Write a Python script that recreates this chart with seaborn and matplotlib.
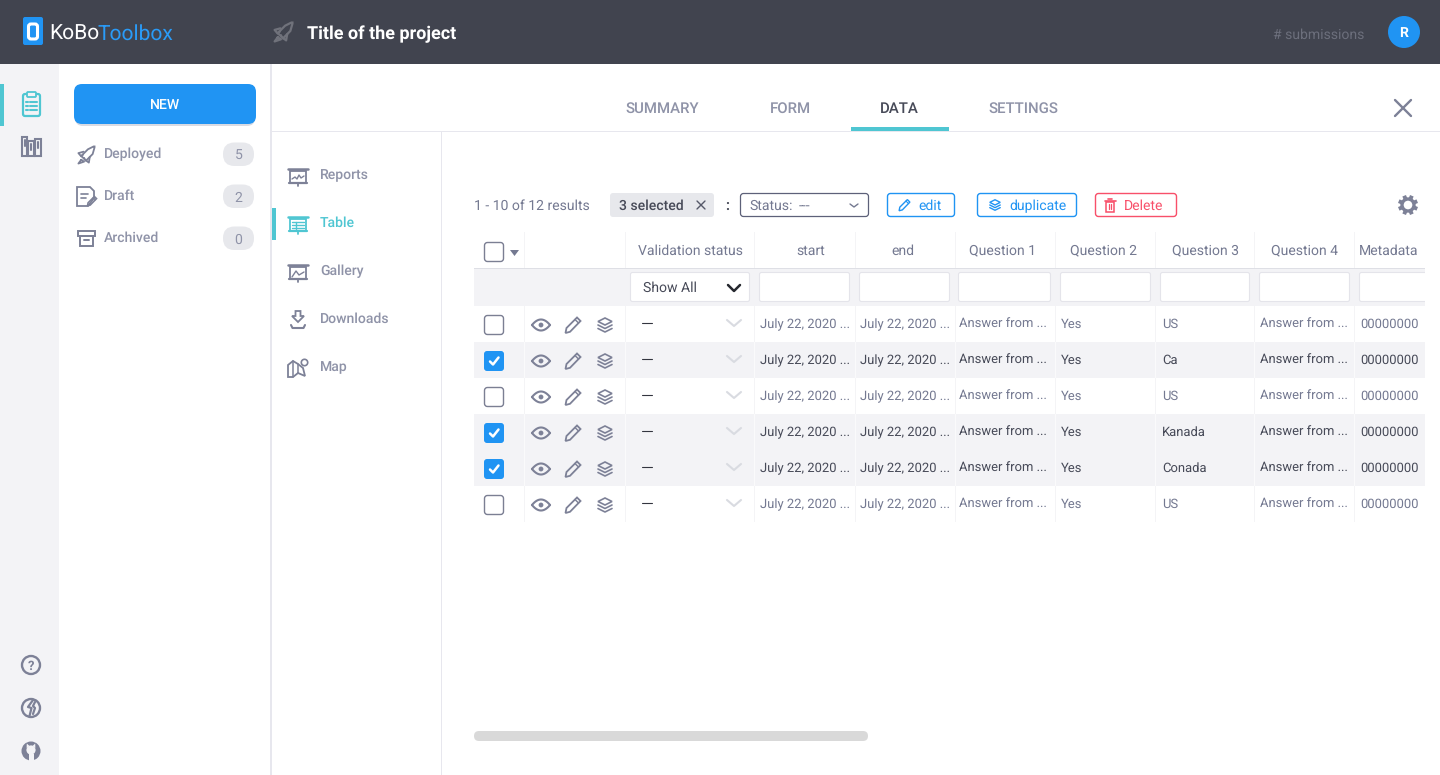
import matplotlib
matplotlib.use('Agg')
import numpy as np
import pandas as pd
import matplotlib.pyplot as plt
import seaborn as sns
from matplotlib.colors import ListedColormap
from matplotlib.patches import Circle, FancyBboxPatch, Polygon, Rectangle

# Screen contents
project_title = 'Title of the project'
tabs = ['SUMMARY', 'FORM', 'DATA', 'SETTINGS']
tab_x = [662, 790, 899.5, 1023.5]
asset_groups = ['Deployed', 'Draft', 'Archived']
asset_counts = [5, 2, 0]
data_views = ['Reports', 'Table', 'Gallery', 'Downloads', 'Map']
columns = ['Validation status', 'start', 'end', 'Question 1', 'Question 2',
           'Question 3', 'Question 4', 'Metadata']
column_x = [690, 811, 903, 1003, 1104, 1206, 1305, 1389]
column_edges = [524, 625, 754, 855, 955, 1055, 1155, 1254, 1354]
filter_boxes = [(759, 850), (859, 950), (958, 1051), (1060, 1151),
                (1160, 1250), (1259, 1350), (1359, 1440)]
selected = [0, 1, 0, 1, 1, 0]
start_vals = ['July 22, 2020 ...'] * 6
end_vals = ['July 22, 2020 ...'] * 6
q1_vals = ['Answer from ...'] * 6
q2_vals = ['Yes'] * 6
q3_vals = ['US', 'Ca', 'US', 'Kanada', 'Conada', 'US']
q4_vals = ['Answer from ...'] * 6
meta_vals = ['00000000'] * 6

BLUE = '#2094f3'
TEAL = '#4fc6d2'
DARK = '#474a58'
SLATE = '#747991'
SIDE = '#8f93a8'
ICON = '#7d8197'
RED = '#f8506a'
PANEL = '#f3f3f6'
LINE = '#e7e7ee'

sns.set_theme(style='white')
plt.rcParams['font.family'] = ['Roboto', 'DejaVu Sans']
plt.rcParams['text.hinting'] = 'no_hinting'
plt.rcParams['text.hinting_factor'] = 1

fig = plt.figure(figsize=(14.4, 7.75), dpi=100, facecolor='white')

# Row stripes come from the selection flags
row_frame = pd.DataFrame({'selected': selected})
ax_rows = fig.add_axes([474 / 1440, 1 - 522 / 775, 951 / 1440, 216 / 775], zorder=1)
sns.heatmap(row_frame, ax=ax_rows, cmap=ListedColormap(['white', PANEL]), cbar=False,
            vmin=0, vmax=1, xticklabels=False, yticklabels=False)

# Transparent pixel canvas on top for the rest of the page
ax = fig.add_axes([0, 0, 1, 1], zorder=2)
ax.set_xlim(0, 1440)
ax.set_ylim(775, 0)
ax.axis('off')
ax.patch.set_alpha(0)


def px(n):
    return n * 0.72


def rect(x0, y0, x1, y1, color, z=1):
    ax.add_patch(Rectangle((x0, y0), x1 - x0, y1 - y0, fc=color, ec='none', zorder=z))


def rbox(x0, y0, x1, y1, r=3, fc='white', ec='none', lw=1.0, z=2):
    ax.add_patch(FancyBboxPatch((x0, y0), x1 - x0, y1 - y0,
                                boxstyle=f'round,pad=0,rounding_size={r}',
                                fc=fc, ec=ec, lw=lw, zorder=z))


def text(x, y, s, size=14, color=SLATE, ha='left', weight='normal', z=5):
    return ax.text(x, y, s, fontsize=px(size), color=color, ha=ha, va='center_baseline',
                   weight=weight, zorder=z)


def line(xs, ys, color=ICON, lw=1.3, z=4):
    ax.plot(xs, ys, color=color, lw=lw, zorder=z, solid_capstyle='round',
            solid_joinstyle='round')


def rocket(cx, cy, s, color, lw=1.3):
    # tilted rocket, body outline plus fins
    body = [(8, -9), (9, -9), (9, -8), (7, -1), (0, 6), (-5, 1), (2, -6)]
    ax.add_patch(Polygon([(cx + a * s, cy + b * s) for a, b in body], fc='none', ec=color,
                         lw=lw, zorder=4))
    line([cx - 2.5 * s, cx - 8 * s, cx - 5 * s, cx - 3 * s],
         [cy - 3.5 * s, cy - 2 * s, cy + 1.5 * s, cy - 0.5 * s], color, lw)
    line([cx + 4 * s, cx + 3 * s, cx - 1 * s, cx - 2 * s],
         [cy + 2 * s, cy + 8 * s, cy + 5 * s, cy + 3 * s], color, lw)
    line([cx - 5 * s, cx - 8 * s, cx - 2 * s, cx - 5 * s],
         [cy + 5 * s, cy + 9 * s, cy + 7 * s, cy + 5 * s], color, lw)


def board(cx, cy, color, rows=False, lw=1.3):
    # presentation board icon used in the data side menu
    ax.add_patch(Rectangle((cx - 8, cy - 6), 16, 12, fc='none', ec=color, lw=lw, zorder=4))
    line([cx - 10, cx + 10], [cy - 8, cy - 8], color, lw + 0.5)
    line([cx, cx], [cy + 6, cy + 9], color, lw)
    line([cx - 9, cx + 9], [cy + 6, cy + 6], color, lw + 0.3)
    if rows:
        for dy in (-3, 0, 3):
            line([cx - 6, cx + 6], [cy + dy, cy + dy], color, 1.0)
        line([cx - 2, cx - 2], [cy - 3, cy + 4], color, 1.0)


def eye(cx, cy):
    t = np.linspace(-1, 1, 30)
    line(cx + 9 * t, cy - 5.5 * (1 - t ** 2), ICON, 1.5)
    line(cx + 9 * t, cy + 5.5 * (1 - t ** 2), ICON, 1.5)
    ax.add_patch(Circle((cx, cy), 2.4, fc=ICON, ec='none', zorder=4))


def pencil(cx, cy, color=ICON, s=1.0, lw=1.3):
    # slim diagonal pencil
    pts = [(-7.5, 8), (-6.5, 3), (4, -7.5), (7.5, -4), (-3, 6.8)]
    ax.add_patch(Polygon([(cx + a * s, cy + b * s) for a, b in pts], fc='none', ec=color,
                         lw=lw, zorder=4))
    line([cx + 2 * s, cx + 5.5 * s], [cy - 5.5 * s, cy - 2 * s], color, lw * 0.8)


def layers(cx, cy, color=ICON, s=1.0, lw=1.2):
    ax.add_patch(Polygon([(cx - 7 * s, cy - 3.5 * s), (cx, cy - 7 * s), (cx + 7 * s, cy - 3.5 * s),
                          (cx, cy)], fc='none', ec=color, lw=lw, zorder=4))
    for dy in (0, 3.5):
        line([cx - 7 * s, cx, cx + 7 * s],
             [cy + dy * s, cy + (dy + 3.5) * s, cy + dy * s], color, lw)


def checkbox(cx, cy, checked):
    if checked:
        rbox(cx - 10, cy - 10, cx + 10, cy + 10, 3, fc=BLUE, z=3)
        line([cx - 4, cx - 1, cx + 4.5], [cy + 0.5, cy + 3.5, cy - 3.5], 'white', 1.8)
    else:
        rbox(cx - 9.5, cy - 9.5, cx + 9.5, cy + 9.5, 3, fc='white', ec='#7b7f93', lw=1.0, z=3)


# Header bar
rect(0, 0, 1440, 64, '#41444f')
rbox(23, 17, 43, 45, 2, fc=BLUE)
rbox(28.5, 24, 37.5, 39, 2.5, fc='none', ec='white', lw=2.2, z=3)
text(49, 32, 'KoBo', 21.5, 'white')
text(97, 32, 'Toolbox', 21.5, '#2a9bf7')
rocket(283, 32, 1.05, '#70727b', 1.6)
text(307, 32, project_title, 18, 'white', weight='bold')
text(1319, 34, '# submissions', 14, '#6c6f7c', ha='center')
ax.add_patch(Circle((1404, 32), 16, fc=BLUE, ec='none', zorder=3))
text(1404, 32, 'R', 14, 'white', ha='center', weight='bold')

# Left rail
rect(0, 64, 59, 775, PANEL)
rect(0, 84, 4, 126, TEAL, 3)
rbox(23, 94, 40, 116, 2, fc='none', ec=TEAL, lw=1.6, z=4)
rbox(27, 92, 36, 97, 1, fc=PANEL, ec=TEAL, lw=1.3, z=4)
for dy in (102, 106, 110):
    line([26, 28], [dy, dy], TEAL, 1.5)
    line([30, 37], [dy, dy], TEAL, 1.5)
for x0, x1, y0 in [(22, 27, 137), (28, 34, 141), (35, 41, 139)]:
    ax.add_patch(Rectangle((x0, y0), x1 - x0, 155.5 - y0, fc='none', ec=ICON, lw=1.5, zorder=4))
    line([(x0 + x1) / 2] * 2, [y0 + 3, y0 + 9], ICON, 1.5)

ax.add_patch(Circle((31, 665), 9, fc='none', ec=ICON, lw=1.7, zorder=4))
text(31, 665, '?', 13, ICON, ha='center', weight='bold')
ax.add_patch(Circle((31, 708), 9, fc='none', ec=ICON, lw=1.7, zorder=4))
line([33, 28, 31.5, 29.5], [700, 707, 708, 716], ICON, 1.6)
line([35, 33, 35, 33], [702, 706, 708, 714], ICON, 1.6)
ax.add_patch(Circle((31, 751), 9.5, fc=ICON, ec='none', zorder=4))
ax.add_patch(Circle((31, 750), 4.6, fc=PANEL, ec='none', zorder=5))
rect(28.5, 754, 33.5, 761, PANEL, 5)
ax.add_patch(Polygon([(26.6, 748), (26.8, 743.5), (29.5, 746)], fc=PANEL, ec='none', zorder=5))
ax.add_patch(Polygon([(35.4, 748), (35.2, 743.5), (32.5, 746)], fc=PANEL, ec='none', zorder=5))

# Asset menu
rbox(75, 86, 255, 126, 8, fc='#d9dbe3', z=1)
rbox(74, 84, 256, 124, 8, fc=BLUE)
text(165, 103.5, 'NEW', 14, 'white', ha='center', weight='medium')
for i, (name, count) in enumerate(zip(asset_groups, asset_counts)):
    y = 153 + 42 * i
    text(104, y - 0.4, name, 14, SIDE, weight='medium')
    rbox(223, y - 10.5, 254, y + 13, 11.5, fc='#e7e8ec')
    text(238.5, y + 2, str(count), 14, SIDE, ha='center')
rocket(86, 155, 0.95, ICON)
ax.add_patch(Polygon([(77, 187), (90, 187), (94, 191), (94, 198), (88, 206), (77, 206)], fc='none',
                     ec=ICON, lw=1.3, zorder=4))
line([81, 88], [194, 194], ICON, 1.2)
line([81, 86], [198, 198], ICON, 1.2)
pencil(92, 201, ICON, 0.6, 1.2)
ax.add_patch(Rectangle((78, 231), 17, 4.5, fc='none', ec=ICON, lw=1.4, zorder=4))
ax.add_patch(Rectangle((80, 235.5), 13, 10.5, fc='none', ec=ICON, lw=1.4, zorder=4))
line([84, 89], [239.5, 239.5], ICON, 1.4)

# Panel separators and tabs
rect(270, 64, 272, 775, LINE)
rect(272, 131, 1440, 132, LINE)
rect(441, 132, 442, 775, LINE)
for label, x in zip(tabs, tab_x):
    active = label == 'DATA'
    text(x, 107.5, label, 15, DARK if active else SIDE, ha='center', weight='medium')
rect(851, 127, 949, 131, TEAL)
line([1395, 1411], [100, 116], ICON, 1.7)
line([1395, 1411], [116, 100], ICON, 1.7)

# Data side menu
for i, name in enumerate(data_views):
    y = 174 + 48 * i
    active = name == 'Table'
    text(320, y - 0.4, name, 14, TEAL if active else SIDE, weight='medium')
rect(272, 208, 276, 240, TEAL, 3)
board(298, 177, ICON)
line([292, 295, 297, 299, 301, 304], [179, 177, 179, 175, 178, 176], ICON, 1.0)
board(298, 225, TEAL, rows=True)
board(298, 273, ICON)
line([292, 296, 299, 304], [277, 271, 275, 272], ICON, 1.0)
ax.add_patch(Polygon([(295.5, 311), (300.5, 311), (300.5, 316), (304, 316), (298, 322), (292, 316),
                      (295.5, 316)], fc='none', ec=ICON, lw=1.3, zorder=4))
line([291, 292.5, 303.5, 305], [325, 328, 328, 325], ICON, 1.5)
ax.add_patch(Polygon([(288, 365), (293, 361), (298, 364), (303, 368), (305, 376), (298, 373), (293, 377),
                      (288, 377)], fc='none', ec=ICON, lw=1.3, zorder=4))
line([293, 293], [361, 377], ICON, 1.1)
line([298, 298], [364, 373], ICON, 1.1)
ax.add_patch(Circle((304.5, 362.5), 3.2, fc='white', ec=ICON, lw=1.2, zorder=5))

# Toolbar
text(474, 205, '1 - 10 of 12 results', 14, SLATE)
rbox(610, 193, 714, 217, 3, fc='#e7e8ec')
text(619, 205, '3 selected', 14, DARK, weight='medium')
line([697, 705], [201, 209], '#555868', 1.0)
line([697, 705], [209, 201], '#555868', 1.0)
text(727, 205, ':', 14, DARK, ha='center', weight='bold')
rbox(740.5, 193.5, 868.5, 216.5, 3, ec='#5d6179', lw=0.9)
text(749, 205, 'Status:', 14, SLATE)
text(799, 205, '---', 14, SLATE)
line([850, 854, 858], [204, 207, 204], SLATE, 1.0)
rbox(887.5, 193.5, 954.5, 216.5, 3, ec=BLUE, lw=1.0)
pencil(904.5, 205, BLUE, 0.72, 1.0)
text(918, 205, 'edit', 14, BLUE)
rbox(977.5, 193.5, 1076.5, 216.5, 3, ec=BLUE, lw=1.0)
layers(995, 205, BLUE, 0.75, 1.0)
text(1009, 204.6, 'duplicate', 14, BLUE)
rbox(1095.5, 193.5, 1176.5, 216.5, 3, ec=RED, lw=1.0)
ax.add_patch(Rectangle((1106, 201.5), 8, 10, fc='none', ec=RED, lw=1.1, zorder=4))
line([1104.5, 1115.5], [201, 201], RED, 1.2)
line([1108, 1112], [199, 199], RED, 1.2)
line([1108.7, 1108.7], [204, 209], RED, 0.9)
line([1111.3, 1111.3], [204, 209], RED, 0.9)
text(1124, 205, 'Delete', 14, RED)
for ang in np.arange(0, 360, 45):
    a = np.deg2rad(ang + 22.5)
    ax.plot([1408 + 6.5 * np.cos(a), 1408 + 10 * np.cos(a)], [205 + 6.5 * np.sin(a), 205 + 10 * np.sin(a)],
            color=ICON, lw=2.8, solid_capstyle='butt', zorder=4)
ax.add_patch(Circle((1408, 205), 6, fc='white', ec=ICON, lw=2.4, zorder=5))

# Table header and filter row
rect(474, 268, 1425, 306, PANEL)
rect(474, 267.5, 1425, 269, '#dedfe5', 2)
for name, x in zip(columns, column_x):
    text(x, 249.2, name, 14, SLATE, ha='center')
for x in column_edges:
    rect(x - 0.5, 232, x + 0.5, 268, '#f4f4f6', 2)
    for i, flag in enumerate(selected):
        rect(x - 0.5, 306 + 36 * i, x + 0.5, 342 + 36 * i, '#fafafb' if flag else '#f4f4f6', 2)
checkbox(494, 252, False)
ax.add_patch(Polygon([(510, 250), (519, 250), (514.5, 256)], fc=SLATE, ec='none', zorder=4))
rbox(630.5, 272.5, 749.5, 301.5, 2, ec='#e4e4ea', lw=0.8)
text(643, 287, 'Show All', 13.5, DARK)
line([728, 734, 740], [285, 291, 285], '#26282f', 1.8)
for x0, x1 in filter_boxes:
    rbox(x0 + 0.5, 272.5, x1 - 0.5, 301.5, 2, ec='#e4e4ea', lw=0.8)
rect(1425, 268, 1440, 306, 'white', 3)

# Table rows
row_cols = [(760, start_vals), (860, end_vals), (959, q1_vals), (1061, q2_vals),
            (1162, q3_vals), (1260, q4_vals), (1360, meta_vals)]
for i, flag in enumerate(selected):
    y = 323 + 36 * i
    color = DARK if flag else SLATE
    checkbox(494, y + 2, bool(flag))
    eye(541, y + 2)
    pencil(573, y + 2)
    layers(605, y + 2)
    ax.plot([642, 652], [y, y], color='#33353f', lw=0.8, zorder=4)
    line([727, 734, 741], [y - 3, y + 3, y - 3], '#d9dbe1', 1.5)
    for x, vals in row_cols:
        text(x, y, vals[i], 13, color)
    rect(474, y + 18.5, 1425, y + 19.3, '#f0f0f4', 2)

# Scrollbar
rbox(474, 731, 868, 741, 5, fc='#d9d9d9')

fig.savefig('out.png', dpi=100, facecolor='white')
